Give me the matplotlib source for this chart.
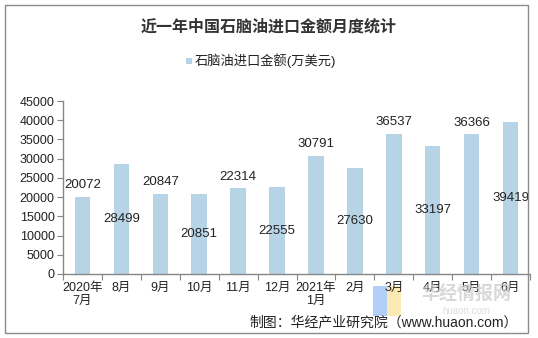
import matplotlib
matplotlib.use("Agg")
import matplotlib.pyplot as plt
import numpy as np
from matplotlib.patches import Rectangle

plt.rcParams['font.family'] = ['Liberation Sans', 'Noto Sans CJK SC', 'DejaVu Sans']

categories = ["2020年\n7月", "8月", "9月", "10月", "11月", "12月", "2021年\n1月",
              "2月", "3月", "4月", "5月", "6月"]
values = [20072, 28499, 20847, 20851, 22314, 22555, 30791, 27630, 36537, 33197, 36366, 39419]
yticks = [0, 5000, 10000, 15000, 20000, 25000, 30000, 35000, 40000, 45000]

title = "近一年中国石脑油进口金额月度统计"
legend_label = "石脑油进口金额(万美元)"
source = "制图：华经产业研究院（www.huaon.com）"

W, H = 538, 338
fig = plt.figure(figsize=(W / 100, H / 100), dpi=100)
fig.patch.set_facecolor("white")

# outer frame
fig.add_artist(Rectangle((5 / W, 5 / H), 523 / W, 328 / H, transform=fig.transFigure,
                         fill=False, edgecolor="#8c8c8c", linewidth=1.0))

ax = fig.add_axes([63 / W, (H - 274) / H, (530 - 63) / W, (274 - 101) / H])
bar_color = "#b7d4e6"
x = np.arange(len(values))
ax.bar(x, values, width=0.4, color=bar_color, zorder=2)
ax.set_xlim(-0.5, len(values) - 0.5)
ax.set_ylim(0, 45000)
ax.set_yticks(yticks)
ax.set_yticklabels([str(v) for v in yticks], fontsize=9, color="#222222")

ax.set_xticks(np.arange(len(values) + 1) - 0.5)
ax.set_xticklabels([])
ax.set_xticks(x, minor=True)
ax.set_xticklabels(categories, minor=True, fontsize=9, color="#222222", linespacing=1.1)
ax.tick_params(axis="x", which="minor", length=0, pad=6)
ax.tick_params(axis="x", which="major", length=4, color="#868686", direction="out")
ax.tick_params(axis="y", length=4, color="#868686", direction="out", pad=2)

for s in ["top", "right"]:
    ax.spines[s].set_visible(False)
for s in ["left", "bottom"]:
    ax.spines[s].set_color("#868686")
    ax.spines[s].set_linewidth(1.0)

for i, v in enumerate(values):
    if i % 2 == 0:
        ax.annotate(str(v), (i, v), xytext=(0, 4), textcoords="offset points",
                    ha="center", va="bottom", fontsize=9.5, color="#222222", zorder=3)
    else:
        ax.text(i, v / 2, str(v), ha="center", va="center", fontsize=9.5,
                color="#222222", zorder=3)

fig.text(0.5, (H - 27) / H, title, ha="center", va="center", fontsize=11.5,
         fontweight="bold", color="#333333", family=['Noto Sans CJK SC', 'DejaVu Sans'])

# legend
fig.add_artist(Rectangle((186 / W, (H - 64) / H), 6 / W, 6 / H, transform=fig.transFigure,
                         facecolor=bar_color, edgecolor="none"))
fig.text(195 / W, (H - 61) / H, legend_label, ha="left", va="center", fontsize=9.5,
         color="#222222")

# watermark
fig.add_artist(Rectangle((373 / W, (H - 316) / H), 14 / W, 30 / H, transform=fig.transFigure,
                         facecolor="#9ec3f5", edgecolor="none", alpha=0.8, zorder=0))
fig.add_artist(Rectangle((387 / W, (H - 316) / H), 14 / W, 30 / H, transform=fig.transFigure,
                         facecolor="#fbe7a0", edgecolor="none", alpha=0.8, zorder=0))
fig.text(466 / W, (H - 294) / H, "华经情报网", ha="center", va="center", fontsize=13,
         fontweight="bold", color="#c8c8c8", alpha=0.7, zorder=0,
         family=['Noto Sans CJK SC', 'DejaVu Sans'])
fig.text(466 / W, (H - 311) / H, "huaon.com", ha="center", va="center", fontsize=7,
         color="#d0d0d0", alpha=0.7, zorder=0)

fig.text(518 / W, (H - 322) / H, source, ha="right", va="center", fontsize=10,
         color="#222222")

fig.savefig("out.png", dpi=100)
